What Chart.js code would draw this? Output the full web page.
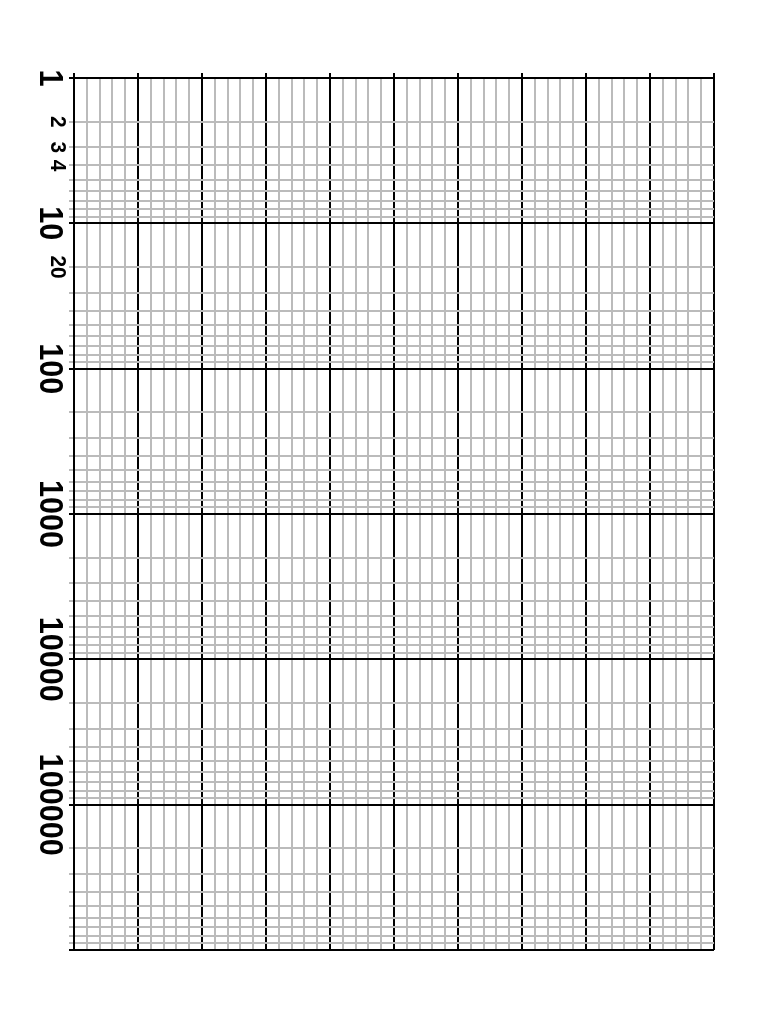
<!DOCTYPE html>
<html lang="en">
<head>
  <meta charset="UTF-8" />
  <title>Semi-log graph paper</title>
  <style>
    body {
      margin: 0;
      background-color: #ffffff;
      font-family: "Liberation Sans", Arial, sans-serif;
    }

    #paper {
      display: block;
    }
  </style>
</head>
<body>
  <canvas id="paper" width="768" height="1024"></canvas>

  <script src="https://cdn.jsdelivr.net/npm/chart.js@4"></script>
  <script>
    // x: 10 major columns, each split into 5
    const xMajorCount = 10;
    const xMinorPerMajor = 5;

    // y: log scale, 1 at the top down to 10^6
    const yDecades = [1, 10, 100, 1000, 10000, 100000, 1000000];
    const yMinorSteps = [1, 2, 3, 4, 5, 6, 7, 8, 9];

    // labels written on the left, read top to bottom
    const yLabelValues = [1, 2, 3, 4, 10, 20, 100, 1000, 10000, 100000];
    const yLabelText = ["1", "2", "3", "4", "10", "20", "100", "1000", "10000", "100000"];

    const BLACK = "#000000";
    const GREY = "#bbbbbb";
    const FONT = "'Liberation Sans', Arial, sans-serif";

    const isDecade = (v) => Math.abs(Math.log10(v) - Math.round(Math.log10(v))) < 1e-9;

    const yTickValues = [];
    yDecades.slice(0, -1).forEach(d => {
      yMinorSteps.forEach(s => yTickValues.push(d * s));
    });
    yTickValues.push(yDecades[yDecades.length - 1]);

    const sideLabels = {
      id: "sideLabels",
      afterDraw(chart) {
        const ctx = chart.ctx;
        const yScale = chart.scales.y;
        ctx.save();
        ctx.fillStyle = BLACK;
        ctx.textAlign = "center";
        ctx.textBaseline = "middle";
        yLabelValues.forEach((v, i) => {
          const big = isDecade(v);
          const y = yScale.getPixelForValue(v);
          ctx.save();
          ctx.font = big ? "bold 34px " + FONT : "bold 22px " + FONT;
          ctx.translate(big ? 50 : 58, y);
          ctx.rotate(Math.PI / 2);
          ctx.scale(big ? 0.9 : 0.95, 1);
          ctx.fillText(yLabelText[i], 0, 1);
          ctx.restore();
        });
        ctx.restore();
      }
    };

    new Chart(document.getElementById("paper").getContext("2d"), {
      type: "scatter",
      data: { datasets: [{ data: [] }] },
      options: {
        responsive: false,
        animation: false,
        layout: { padding: { top: 73, left: 69, right: 54, bottom: 74 } },
        plugins: { legend: { display: false }, tooltip: { enabled: false } },
        scales: {
          x: {
            type: "linear",
            position: "top",
            min: 0,
            max: xMajorCount * xMinorPerMajor,
            ticks: { display: false, stepSize: 1 },
            afterBuildTicks: (scale) => {
              scale.ticks = Array.from({ length: xMajorCount * xMinorPerMajor + 1 }, (_, i) => ({ value: i }));
            },
            afterFit: (scale) => { scale.height = 5; },
            grid: {
              drawTicks: true,
              tickLength: 5,
              color: (c) => (c.tick.value % xMinorPerMajor === 0 ? BLACK : GREY),
              tickColor: (c) => (c.tick.value % xMinorPerMajor === 0 ? BLACK : "rgba(0,0,0,0)"),
              lineWidth: 2
            },
            border: { display: true, color: BLACK, width: 2 }
          },
          y: {
            type: "logarithmic",
            reverse: true,
            min: 1,
            max: 1000000,
            ticks: { display: false },
            afterBuildTicks: (scale) => {
              scale.ticks = yTickValues.map(v => ({ value: v }));
            },
            afterFit: (scale) => { scale.width = 5; },
            grid: {
              drawTicks: true,
              tickLength: 5,
              color: (c) => (isDecade(c.tick.value) ? BLACK : GREY),
              tickColor: (c) => (isDecade(c.tick.value) ? BLACK : GREY),
              lineWidth: 2
            },
            border: { display: true, color: BLACK, width: 2 }
          }
        }
      },
      plugins: [sideLabels]
    });
  </script>
</body>
</html>
